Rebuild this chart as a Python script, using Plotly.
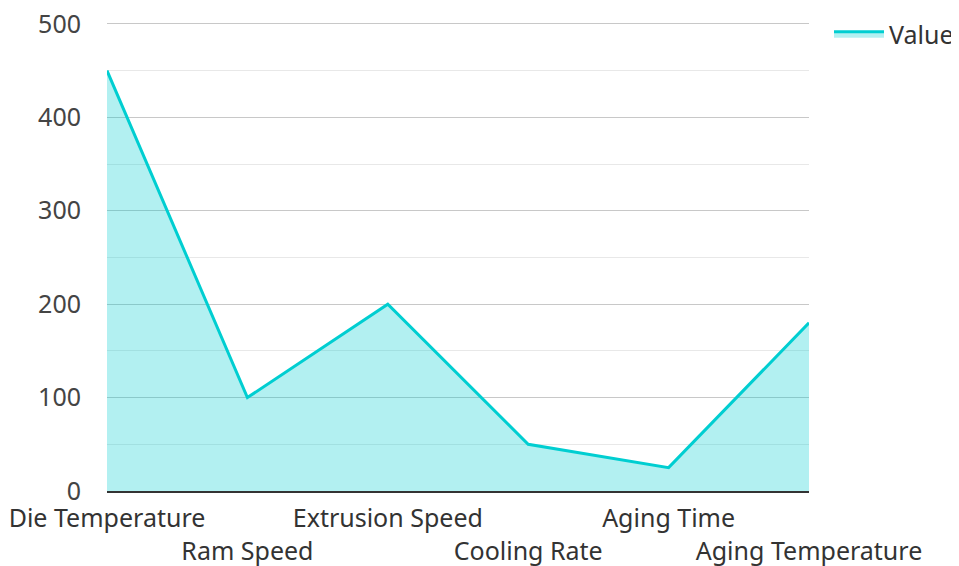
import plotly.graph_objects as go

categories = ["Die Temperature", "Ram Speed", "Extrusion Speed", "Cooling Rate", "Aging Time", "Aging Temperature"]
values = [450, 100, 200, 50, 25, 180]
y_ticks = [0, 100, 200, 300, 400, 500]
series_name = "Value"

ticktext = [c if i % 2 == 0 else "<br>" + c for i, c in enumerate(categories)]

fig = go.Figure()
fig.add_trace(go.Scatter(
    x=list(range(len(categories))), y=values, name=series_name,
    mode="lines", line=dict(color="#00CED1", width=3),
    fill="tozeroy", fillcolor="rgba(0,206,209,0.3)",
))

# page body has an 8px margin, so the figure is offset by 8px
fig.update_layout(
    width=951, height=558,
    margin=dict(l=99, r=150, t=14, b=75),
    paper_bgcolor="white", plot_bgcolor="white",
    font=dict(family="Noto Sans", size=25, color="#333"),
    showlegend=True,
    legend=dict(x=0.8633, y=0.9946, xref="container", yref="container",
                xanchor="left", yanchor="top", font=dict(size=25, color="#333"),
                itemwidth=50, bgcolor="rgba(0,0,0,0)"),
    xaxis=dict(
        range=[0, len(categories) - 1], tickmode="array",
        tickvals=list(range(len(categories))), ticktext=ticktext,
        showgrid=False, showline=True, linecolor="#333", linewidth=2,
        ticks="", zeroline=False, tickfont=dict(color="#333"),
        tickangle=0, automargin=False, ticklabelstandoff=4,
        ticklabeloverflow="allow",
    ),
    yaxis=dict(
        range=[0, 502], tickvals=y_ticks, showgrid=True, gridcolor="#c8c8c8", gridwidth=1,
        minor=dict(dtick=50, showgrid=True, gridcolor="#e8e8e8", gridwidth=1),
        zeroline=False, showline=False, ticks="", ticklabelstandoff=25,
        tickfont=dict(color="#444"), automargin=False, ticklabeloverflow="allow",
    ),
)

fig.write_html("out.html")
